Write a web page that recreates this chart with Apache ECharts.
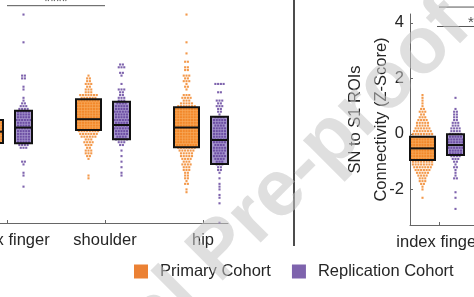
<!DOCTYPE html>
<html><head><meta charset="utf-8">
<script src="https://cdn.jsdelivr.net/npm/echarts@6/dist/echarts.min.js"></script>
<style>html,body{margin:0;padding:0;background:#fff;overflow:hidden}#c{width:474px;height:297px}</style>
</head><body><div id="c"></div>
<script>
// ---------------- DATA ----------------
const leftCategories = ['index finger', 'shoulder', 'hip'];
const rightCategories = ['index finger'];
const cohorts = ['Primary Cohort', 'Replication Cohort'];
const yTickValues = [-2, 0, 2, 4];
const yAxisTitle = 'SN to S1 ROIs\nConnectivity (Z-Score)';

// swarm rows: [value, number of dots in that row]
const indexPrimaryRows = [[1.8,1],[1.5,1],[1.3,2],[1.1,3],[0.9,4],[0.7,6],[0.6,7],[0.5,8],[0.4,9],[0.3,9],[0.2,9],[0.1,9],[0.0,9],[-0.1,9],[-0.2,9],[-0.3,8],[-0.4,7],[-0.5,6],[-0.7,4],[-0.9,3],[-1.1,2],[-1.4,1]];
const indexReplicationRows = [[4.3,1],[3.3,1],[2.1,2],[2.0,2],[1.7,1],[1.6,1],[1.3,1],[1.2,1],[1.1,2],[1.0,3],[0.9,4],[0.8,5],[0.7,5],[0.6,5],[0.5,6],[0.4,5],[0.3,5],[0.2,6],[0.1,5],[0.0,5],[-0.1,5],[-0.2,5],[-0.3,5],[-0.4,4],[-0.5,3],[-1.0,2],[-1.1,1],[-1.4,1],[-1.5,1],[-1.9,1]];
const shoulderPrimaryRows = [[2.1,1],[2.0,2],[1.9,2],[1.8,3],[1.7,2],[1.6,3],[1.5,3],[1.4,7],[1.3,6],[1.2,8],[1.1,9],[1.0,9],[0.9,9],[0.8,9],[0.7,9],[0.6,9],[0.5,9],[0.4,9],[0.3,9],[0.2,9],[0.1,8],[0.0,7],[-0.1,6],[-0.2,3],[-0.3,4],[-0.4,3],[-0.5,2],[-0.6,3],[-0.7,3],[-0.8,2],[-0.9,1],[-1.5,1],[-1.6,1]];
const shoulderReplicationRows = [[2.5,2],[2.4,3],[2.2,2],[2.1,1],[1.8,1],[1.6,3],[1.5,2],[1.4,2],[1.3,3],[1.2,3],[1.1,4],[1.0,5],[0.9,5],[0.8,6],[0.7,5],[0.6,5],[0.5,6],[0.4,5],[0.3,5],[0.2,6],[0.1,5],[0.0,5],[-0.1,4],[-0.2,5],[-0.3,3],[-0.4,2],[-0.6,1],[-0.8,1],[-1.0,1],[-1.2,1],[-1.4,1],[-1.5,1]];
const hipPrimaryRows = [[4.3,1],[3.3,1],[2.9,1],[2.6,2],[2.4,2],[2.3,2],[2.1,3],[2.0,2],[1.9,3],[1.8,1],[1.7,2],[1.6,1],[1.4,3],[1.3,4],[1.2,3],[1.1,5],[1.0,7],[0.9,9],[0.8,9],[0.7,9],[0.6,9],[0.5,9],[0.4,9],[0.3,9],[0.2,9],[0.1,9],[0.0,9],[-0.1,9],[-0.2,9],[-0.3,9],[-0.4,8],[-0.5,7],[-0.6,6],[-0.7,5],[-0.8,5],[-0.9,4],[-1.0,3],[-1.1,4],[-1.2,3],[-1.3,3],[-1.4,2],[-1.5,2],[-1.6,2],[-1.7,1],[-1.8,2],[-2.0,1],[-2.1,1]];
const hipReplicationRows = [[1.8,4],[1.5,2],[1.2,3],[1.1,2],[1.0,3],[0.9,2],[0.8,2],[0.7,1],[0.6,4],[0.5,5],[0.4,5],[0.3,4],[0.2,5],[0.1,5],[0.0,5],[-0.1,5],[-0.2,6],[-0.3,5],[-0.4,4],[-0.5,5],[-0.6,5],[-0.7,4],[-0.8,5],[-0.9,4],[-1.0,3],[-1.1,3],[-1.2,2],[-1.3,2],[-1.4,1],[-1.6,1],[-1.8,1],[-1.9,1],[-2.0,1],[-2.2,1],[-2.3,1],[-2.5,1],[-3.2,1]];
const rightPrimaryRows = [[1.4,1],[1.3,1],[1.2,1],[1.1,1],[1.0,1],[0.9,2],[0.8,3],[0.7,2],[0.6,3],[0.5,4],[0.4,5],[0.3,5],[0.2,6],[0.1,7],[0.0,8],[-0.1,8],[-0.2,9],[-0.3,9],[-0.4,9],[-0.5,9],[-0.6,9],[-0.7,9],[-0.8,9],[-0.9,9],[-1.0,8],[-1.1,8],[-1.2,7],[-1.3,6],[-1.4,5],[-1.5,4],[-1.6,3],[-1.7,3],[-1.8,2],[-1.9,1],[-2.0,1],[-2.3,1]];
const rightReplicationRows = [[1.3,1],[0.9,1],[0.8,2],[0.7,2],[0.6,2],[0.5,2],[0.4,3],[0.3,3],[0.2,4],[0.1,4],[0.0,5],[-0.1,5],[-0.2,6],[-0.3,6],[-0.4,6],[-0.5,6],[-0.6,5],[-0.7,5],[-0.8,4],[-0.9,3],[-1.0,2],[-1.1,1],[-1.2,2],[-1.3,1],[-1.4,1],[-1.5,1],[-1.6,2],[-2.1,1],[-2.3,1],[-2.7,1]];

// box statistics [q1, median, q3] per category
const leftPrimaryBoxes = [[-0.33, 0.08, 0.50], [0.14, 0.53, 1.25], [-0.48, 0.23, 0.96]];
const leftReplicationBoxes = [[-0.34, 0.23, 0.83], [-0.19, 0.32, 1.16], [-1.08, -0.22, 0.62]];
const rightPrimaryBoxes = [[-0.94, -0.52, -0.10]];
const rightReplicationBoxes = [[-0.76, -0.40, -0.01]];

// significance brackets: [from category pos, to category pos, level, text]
const leftBrackets = [[1, 2, 4.62, '****']];
const rightBrackets = [[1, 3.5, 4.57, ''], [0.98, 1.67, 3.87, '*']];

// ---------------- STYLE ----------------
const FONT = "'Liberation Sans', Arial, sans-serif";
const TXT = '#262626';
const AX = '#666';
const dotColor = ['#f07f1e', '#5e3c99'];
const legendColor = ['#e66101', '#5e3c99'];
const boxFill = ['#f8aa5c', '#aa9bd0'];
const boxWidth = [25, 17];
const cohortOffset = [-16.5, 16.5];
const dotGap = 2.75;

const chart = echarts.init(document.getElementById('c'), null, {renderer: 'canvas'});

function swarm(rowsList, gridIdx, cohort) {
  const data = [];
  rowsList.forEach((rows, ci) => {
    rows.forEach(([v, n]) => {
      for (let i = 0; i < n; i++) {
        data.push({value: [ci + 1, v], symbolOffset: [cohortOffset[cohort] + (i - (n - 1) / 2) * dotGap, 0]});
      }
    });
  });
  return {
    type: 'scatter', name: cohorts[cohort], xAxisIndex: gridIdx, yAxisIndex: gridIdx,
    symbol: 'rect', symbolSize: 2.1, itemStyle: {color: dotColor[cohort]}, z: 3,
    silent: true, clip: false, data
  };
}

function boxes(stats, gridIdx, cohort, part) {
  return {
    type: 'custom', xAxisIndex: gridIdx, yAxisIndex: gridIdx, z: part === 'fill' ? 2 : 4,
    silent: true, clip: false,
    encode: {x: 0, y: [1, 2, 3]},
    data: stats.map((s, i) => [i + 1, s[0], s[1], s[2]]),
    renderItem(params, api) {
      const x = api.value(0);
      const pTop = api.coord([x, api.value(3)]);
      const pBot = api.coord([x, api.value(1)]);
      const pMed = api.coord([x, api.value(2)]);
      const w = boxWidth[cohort];
      const cx = pTop[0] + cohortOffset[cohort];
      const rect = {x: cx - w / 2, y: pTop[1], width: w, height: pBot[1] - pTop[1]};
      if (part === 'fill') return {type: 'rect', shape: rect, style: {fill: boxFill[cohort]}};
      return {type: 'group', children: [
        {type: 'rect', shape: rect, style: {fill: 'none', stroke: '#111', lineWidth: 2}},
        {type: 'line', shape: {x1: cx - w / 2, y1: pMed[1], x2: cx + w / 2, y2: pMed[1]}, style: {stroke: '#111', lineWidth: 2}}
      ]};
    }
  };
}

function bracketSeries(list, gridIdx) {
  const out = [];
  list.forEach(([a, b, lvl, txt]) => {
    out.push({type: 'line', xAxisIndex: gridIdx, yAxisIndex: gridIdx, clip: false, silent: true,
      symbol: 'none', lineStyle: {color: '#555', width: 1}, z: 5, data: [[a, lvl], [b, lvl]]});
    if (txt) out.push({type: 'scatter', xAxisIndex: gridIdx, yAxisIndex: gridIdx, clip: false, silent: true,
      symbolSize: 0, z: 5, data: [[(a + b) / 2, lvl]],
      label: {show: true, position: 'top', distance: -4, formatter: txt, color: TXT, fontSize: 15, fontFamily: FONT}});
  });
  return out;
}

const series = [];
const leftRows = [[indexPrimaryRows, shoulderPrimaryRows, hipPrimaryRows], [indexReplicationRows, shoulderReplicationRows, hipReplicationRows]];
const rightRows = [[rightPrimaryRows], [rightReplicationRows]];
const leftBoxes = [leftPrimaryBoxes, leftReplicationBoxes];
const rightBoxes = [rightPrimaryBoxes, rightReplicationBoxes];
[0, 1].forEach(c => {
  series.push(boxes(leftBoxes[c], 0, c, 'fill'));
  series.push(boxes(rightBoxes[c], 1, c, 'fill'));
  series.push(swarm(leftRows[c], 0, c));
  series.push(swarm(rightRows[c], 1, c));
  series.push(boxes(leftBoxes[c], 0, c, 'line'));
  series.push(boxes(rightBoxes[c], 1, c, 'line'));
});
series.push(...bracketSeries(leftBrackets, 0));
series.push(...bracketSeries(rightBrackets, 1));

const xLabelStyle = {color: TXT, fontSize: 16.5, fontFamily: FONT, margin: 9};

chart.setOption({
  animation: false,
  backgroundColor: '#fff',
  textStyle: {fontFamily: FONT},
  grid: [
    {left: 0, width: 228, top: 14, bottom: 74, outerBoundsMode: 'none', containLabel: false},
    {left: 410, width: 64, top: 14, bottom: 72, outerBoundsMode: 'none', containLabel: false}
  ],
  xAxis: [
    {type: 'value', gridIndex: 0, min: 0.92857, max: 3.2551,
     axisLine: {show: true, onZero: false, lineStyle: {color: AX, width: 1}},
     axisTick: {show: true, inside: true, length: 3, customValues: leftCategories.map((c, i) => i + 1), lineStyle: {color: AX}},
     axisLabel: {...xLabelStyle, customValues: leftCategories.map((c, i) => i + 1), formatter: v => leftCategories[Math.round(v) - 1]},
     splitLine: {show: false}},
    {type: 'value', gridIndex: 1, min: 0.7041, max: 1.3571,
     axisLine: {show: true, onZero: false, lineStyle: {color: AX, width: 1}},
     axisTick: {show: true, inside: true, length: 3, customValues: rightCategories.map((c, i) => i + 1), lineStyle: {color: AX}},
     axisLabel: {...xLabelStyle, customValues: rightCategories.map((c, i) => i + 1), formatter: v => rightCategories[Math.round(v) - 1]},
     splitLine: {show: false}}
  ],
  yAxis: [
    {type: 'value', gridIndex: 0, min: -3.21, max: 4.32, show: false},
    {type: 'value', gridIndex: 1, min: -3.28, max: 4.32,
     name: yAxisTitle, nameLocation: 'middle', nameRotate: 90, nameGap: 16, nameMoveOverlap: false,
     nameTextStyle: {color: TXT, fontSize: 16.5, lineHeight: 26, fontFamily: FONT},
     axisLine: {show: true, onZero: false, lineStyle: {color: AX, width: 1}},
     axisTick: {show: true, inside: true, length: 3, customValues: yTickValues, lineStyle: {color: AX}},
     axisLabel: {color: TXT, fontSize: 16.5, fontFamily: FONT, margin: 6, customValues: yTickValues},
     splitLine: {show: false}}
  ],
  legend: {
    left: 134, top: 263, padding: 0, orient: 'horizontal', itemWidth: 14, itemHeight: 14, itemGap: 21,
    icon: 'rect', selectedMode: false,
    textStyle: {color: TXT, fontSize: 16.5, fontFamily: FONT, padding: [0, 0, 0, 7]},
    data: cohorts.map((n, i) => ({name: n, itemStyle: {color: legendColor[i]}}))
  },
  graphic: [
    {type: 'line', shape: {x1: 294, y1: 0, x2: 294, y2: 246}, style: {stroke: '#111', lineWidth: 1.5}, z: 10},
    {type: 'text', x: 458, y: 14, rotation: Math.PI / 4, z: 100, silent: true,
     style: {text: 'Journal Pre-proof', font: "bold 80px 'Liberation Sans', Arial, sans-serif",
       fill: '#c4c4c4', opacity: 0.55, align: 'right', verticalAlign: 'middle'}}
  ],
  series
});
</script>
</body></html>
